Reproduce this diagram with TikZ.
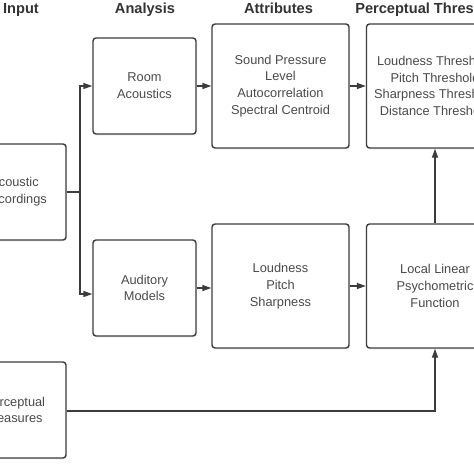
\documentclass[tikz,border=0pt]{standalone}
\usepackage{fontspec}
\setmainfont{Liberation Sans}
\usetikzlibrary{arrows.meta,shadows}
\definecolor{edge}{HTML}{3C3C3C}
\definecolor{txt}{HTML}{4A4A4A}
\definecolor{ttl}{HTML}{333333}
\tikzset{
  box/.style={draw=edge, line width=1.4pt, rounded corners=3pt, fill=white,
    align=center, text=txt, font=\fontsize{12.8}{16.7}\selectfont,
    inner sep=0pt,
    drop shadow={opacity=0.12, shadow xshift=1pt, shadow yshift=-1.5pt}},
  smallbox/.style={box, minimum width=103pt, minimum height=96pt},
  bigbox/.style={box, minimum width=137pt, minimum height=124pt},
  title/.style={anchor=base, text=ttl, font=\fontsize{14.6}{17}\selectfont\bfseries},
  conn/.style={draw=edge, line width=1.4pt},
  arr/.style={conn, -{Triangle[length=9pt,width=6pt]}}
}
\begin{document}
\begin{tikzpicture}[x=1pt,y=-1pt]
\useasboundingbox (0,0) rectangle (474,474);
\clip (0,0) rectangle (474,474);
\fill[white] (0,0) rectangle (474,474);
% titles
\node[title] (tin) at (21,13) {Input};
\node[title] (tan) at (145,13) {Analysis};
\node[title] (tat) at (278.5,13) {Attributes};
\node[title] (tpe) at (434,13) {Perceptual Thresholds};
% boxes
\node[smallbox] (acou) at (14.5,192) {Acoustic\\Recordings};
\node[smallbox] (room) at (144.5,86) {Room\\Acoustics};
\node[smallbox] (audi) at (144.5,288) {Auditory\\Models};
\node[bigbox] (attr1) at (280.5,86) {Sound Pressure\\Level\\Autocorrelation\\Spectral Centroid};
\node[bigbox] (attr2) at (280.5,286) {Loudness\\Pitch\\Sharpness};
\node[bigbox] (perc) at (435,86) {Loudness Threshold\\Pitch Threshold\\Sharpness Threshold\\Distance Threshold};
\node[bigbox] (lin) at (435,286) {Local Linear\\Psychometric\\Function};
\node[smallbox] (pmeas) at (14.5,410) {Perceptual\\Measures};
% connectors
\coordinate (br) at (80,192);
\draw[conn] (acou.east) -- (br);
\draw[arr] (br) |- (room.west);
\draw[arr] (br) |- ([yshift=-6pt]audi.west);
\draw[arr] (room.east) -- (attr1.west);
\draw[arr] (attr1.east) -- (perc.west);
\draw[arr] (audi.east) -- (audi.east -| attr2.west);
\draw[arr] (attr2.east) -- (lin.west);
\draw[arr] (lin.north) -- (perc.south);
\draw[arr] ([yshift=-1pt]pmeas.east) -| (lin.south);
\end{tikzpicture}
\end{document}
